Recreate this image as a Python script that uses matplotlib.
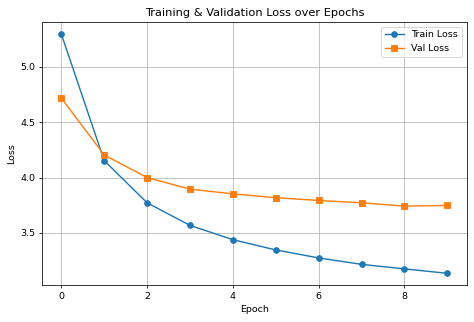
import matplotlib.pyplot as plt

# loss per epoch
epochs = list(range(10))
train_loss = [5.297, 4.153, 3.772, 3.568, 3.439, 3.346, 3.274, 3.216, 3.175, 3.135]
val_loss = [4.718, 4.204, 4.000, 3.895, 3.853, 3.818, 3.793, 3.772, 3.742, 3.748]

fig = plt.figure(figsize=(474 / 68, 322 / 68), dpi=68)
plt.subplots_adjust(left=0.0886, right=0.9846, top=0.9317, bottom=0.114)

plt.plot(epochs, train_loss, marker='o', label='Train Loss')
plt.plot(epochs, val_loss, marker='s', label='Val Loss')
plt.title('Training & Validation Loss over Epochs')
plt.xlabel('Epoch')
plt.ylabel('Loss')
plt.legend()
plt.grid(True)

plt.savefig('out.png', dpi=68)
